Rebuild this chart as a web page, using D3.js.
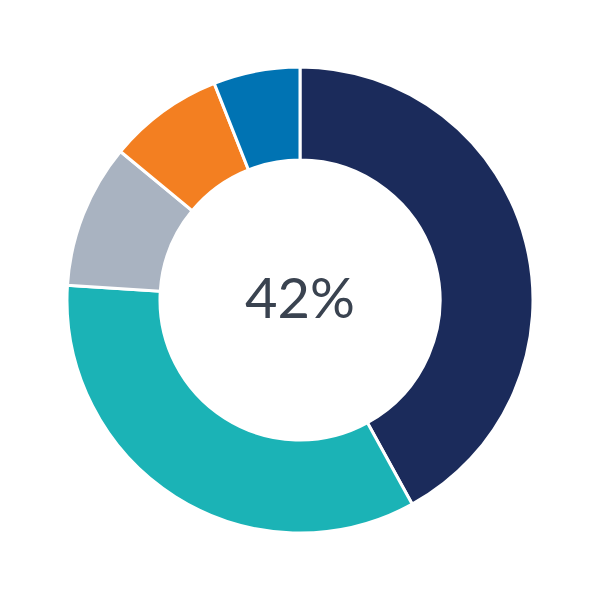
<!DOCTYPE html>
<html>
<head>
<meta charset="utf-8">
<script src="https://cdn.jsdelivr.net/npm/d3@7.9.0/dist/d3.min.js"></script>
<style>
  html, body { margin: 0; padding: 0; background: #fff; }
</style>
</head>
<body>
<svg id="chart" width="600" height="600"></svg>
<script>
// slice data, clockwise from 12 o'clock
const labels = ['A', 'B', 'C', 'D', 'E'];
const values = [42, 34, 10, 8, 6];
const colors = ['#1b2b5b', '#1bb3b6', '#a9b3c1', '#f37f21', '#0073b3'];
const centerLabel = '42%';

const width = 600, height = 600;
const outerR = 233, innerR = 140;

const data = labels.map((label, i) => ({ label: label, value: values[i] }));

const svg = d3.select('#chart');
const g = svg.append('g').attr('transform', `translate(${width / 2},${height / 2})`);

// keep original order, no sorting
const pie = d3.pie().value(d => d.value).sort(null);
const arc = d3.arc().innerRadius(innerR).outerRadius(outerR);
const color = d3.scaleOrdinal().domain(labels).range(colors);

g.selectAll('path')
  .data(pie(data))
  .join('path')
  .attr('d', arc)
  .attr('fill', d => color(d.data.label))
  .attr('stroke', '#fff')
  .attr('stroke-width', 3);

g.append('text')
  .attr('text-anchor', 'middle')
  .attr('y', -2)
  .attr('dy', '0.35em')
  .attr('font-family', 'Lato, "Open Sans", sans-serif')
  .attr('font-weight', 400)
  .attr('font-size', 56)
  .attr('fill', '#3a4350')
  .text(centerLabel);
</script>
</body>
</html>
